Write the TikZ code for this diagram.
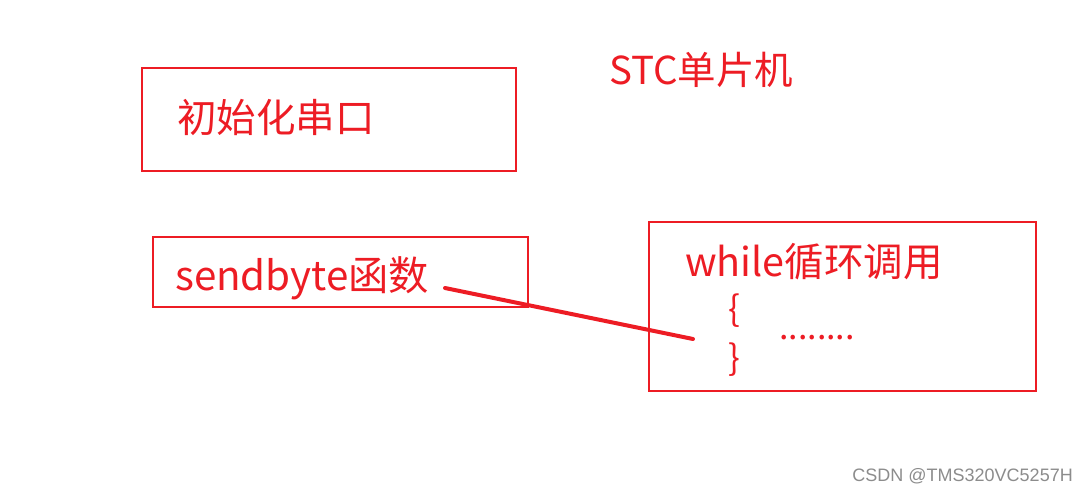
\documentclass[tikz,border=0pt]{standalone}
\usepackage{fontspec}
\setmainfont{Noto Sans CJK SC}
\newfontfamily\markfont{Liberation Sans}
\usetikzlibrary{positioning}
\definecolor{paintred}{HTML}{ED1C24}
\tikzset{
  box/.style={draw=paintred,line width=1.6pt},
  lbl/.style={text=paintred,anchor=west,inner sep=0pt,font=\fontsize{39.5}{40}\selectfont}
}

\begin{document}
\begin{tikzpicture}[x=1pt,y=-1pt]
  \useasboundingbox[fill=white] (0,0) rectangle (1087,493);
  % boxes
  \draw[box] (142,68) rectangle (516,171);
  \draw[box] (153,237) rectangle (528,307);
  \draw[box] (649,222) rectangle (1036,391);
  % labels
  \node[lbl,font=\fontsize{38.5}{39}\selectfont] (stc) at (609,70) {STC单片机};
  \node[lbl] (init) at (177,117) {初始化串口};
  \node[lbl,font=\fontsize{40.3}{41}\selectfont] (send) at (175,278) {sendbyte函数};
  \node[lbl] (loop) at (685,262) {while循环调用};
  \node[lbl,font=\fontsize{35}{35}\selectfont] (lbr) at (728,311) {\{};
  \node[lbl,font=\fontsize{35}{35}\selectfont] (rbr) at (728,360) {\}};
  \node[lbl,font=\fontsize{34}{34}\selectfont] (dots) at (779,338) {........};
  \node[anchor=east,inner sep=0pt,text=black!45,font=\fontsize{18}{18}\markfont] (csdn) at (1073,476) {CSDN @TMS320VC5257H};
  % connector
  \coordinate (a) at (445,288);
  \coordinate (b) at (693,339);
  \draw[paintred,line width=4pt,line cap=round] (a) -- (b);
\end{tikzpicture}
\end{document}
